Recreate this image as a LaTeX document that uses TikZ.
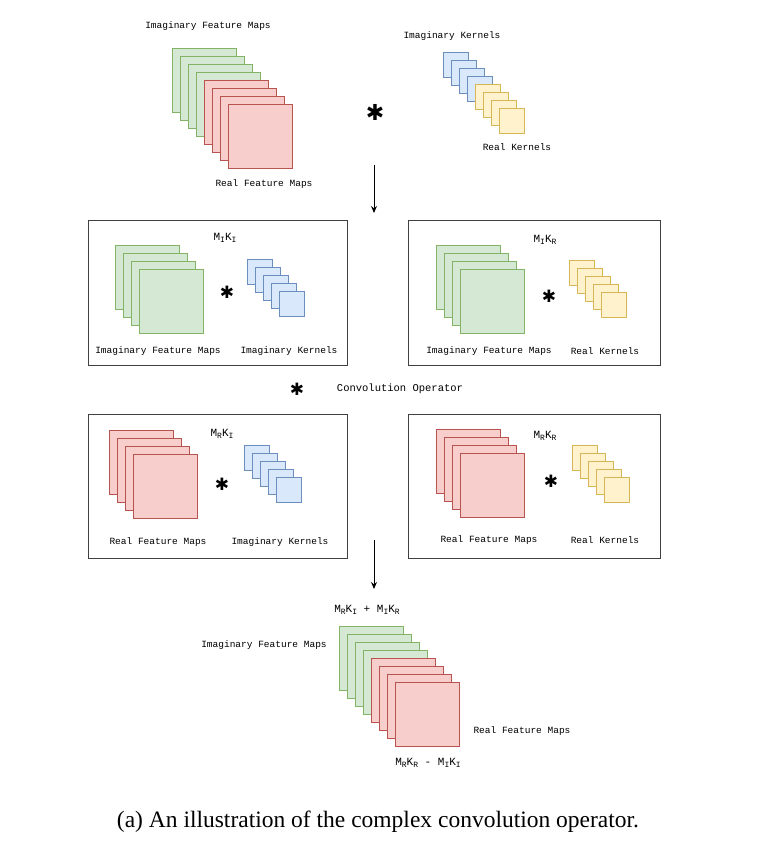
\documentclass[tikz,border=0pt]{standalone}
\usepackage{fontspec}
\setmainfont{Liberation Serif}
\setmonofont{Liberation Mono}
\newfontfamily\symfont{DejaVu Sans}
\usetikzlibrary{arrows.meta}
\begin{document}
\begin{tikzpicture}[x=1pt,y=-1pt,
  lbl/.style={font=\ttfamily\fontsize{9.5}{10}\selectfont, inner sep=0},
  mlbl/.style={font=\ttfamily\fontsize{11}{12}\selectfont, inner sep=0},
  star/.style={font=\symfont\fontsize{17}{17}\selectfont, inner sep=0},
  frame/.style={draw=black!75, line width=0.8pt},
  arr/.style={-{Stealth[length=7pt,width=6pt]}, line width=1pt}]
\definecolor{gf}{HTML}{D5E8D4}\definecolor{gd}{HTML}{82B366}
\definecolor{rf}{HTML}{F8CECC}\definecolor{rd}{HTML}{B85450}
\definecolor{bf}{HTML}{DAE8FC}\definecolor{bd}{HTML}{6C8EBF}
\definecolor{yf}{HTML}{FFF2CC}\definecolor{yd}{HTML}{D6B656}
\tikzset{
  sqg/.style={fill=gf, draw=gd, line width=0.8pt},
  sqr/.style={fill=rf, draw=rd, line width=0.8pt},
  sqb/.style={fill=bf, draw=bd, line width=0.8pt},
  sqy/.style={fill=yf, draw=yd, line width=0.8pt}}
\newcommand{\mysq}[4]{\draw[#1] (#2,#3) rectangle ++(#4,#4);}
\newcommand{\msub}[1]{\raisebox{-0.35ex}{\fontsize{8}{8}\selectfont #1}}
\path[use as bounding box] (0,0) rectangle (757,852);
% top
\foreach \i in {0,...,3} {\mysq{sqg}{172+8*\i}{48+8*\i}{64}}
\foreach \i in {4,...,7} {\mysq{sqr}{172+8*\i}{48+8*\i}{64}}
\foreach \i in {0,...,3} {\mysq{sqb}{443+8*\i}{52+8*\i}{25}}
\foreach \i in {4,...,7} {\mysq{sqy}{443+8*\i}{52+8*\i}{25}}
\node[lbl] (t1) at (208,26) {Imaginary Feature Maps};
\node[lbl] (t2) at (264,184) {Real Feature Maps};
\node[lbl] (t3) at (452,36) {Imaginary Kernels};
\node[lbl] (t4) at (517,147) {Real Kernels};
\node[star, font=\symfont\fontsize{22}{22}\selectfont] (s0) at (375,112) {✱};
\coordinate (a1s) at (374,165); \coordinate (a1e) at (374,213);
\draw[arr] (a1s) -- (a1e);
% box 1
\draw[frame] (88,220) rectangle (347,365);
\node[mlbl] (m1) at (225,238) {M\msub{I}K\msub{I}};
\foreach \i in {0,...,3} {\mysq{sqg}{115+8*\i}{245+8*\i}{64}}
\node[star] (s1) at (227,292) {✱};
\foreach \i in {0,...,4} {\mysq{sqb}{247+8*\i}{259+8*\i}{25}}
\node[lbl] (l11) at (158,351) {Imaginary Feature Maps};
\node[lbl] (l12) at (289,351) {Imaginary Kernels};
% box 2
\draw[frame] (408,220) rectangle (660,365);
\node[mlbl] (m2) at (545,240) {M\msub{I}K\msub{R}};
\foreach \i in {0,...,3} {\mysq{sqg}{436+8*\i}{245+8*\i}{64}}
\node[star] (s2) at (549,296) {✱};
\foreach \i in {0,...,4} {\mysq{sqy}{569+8*\i}{260+8*\i}{25}}
\node[lbl] (l21) at (489,351) {Imaginary Feature Maps};
\node[lbl] (l22) at (605,351) {Real Kernels};
% legend
\node[star] (s5) at (297,389) {✱};
\node[lbl, font=\ttfamily\fontsize{10.5}{11}\selectfont] (cv) at (400,389) {Convolution Operator};
% box 3
\draw[frame] (88,414) rectangle (347,558);
\node[mlbl] (m3) at (222,434) {M\msub{R}K\msub{I}};
\foreach \i in {0,...,3} {\mysq{sqr}{109+8*\i}{430+8*\i}{64}}
\node[star] (s3) at (222,484) {✱};
\foreach \i in {0,...,4} {\mysq{sqb}{244+8*\i}{445+8*\i}{25}}
\node[lbl] (l31) at (158,542) {Real Feature Maps};
\node[lbl] (l32) at (280,542) {Imaginary Kernels};
% box 4
\draw[frame] (408,414) rectangle (660,558);
\node[mlbl] (m4) at (545,436) {M\msub{R}K\msub{R}};
\foreach \i in {0,...,3} {\mysq{sqr}{436+8*\i}{429+8*\i}{64}}
\node[star] (s4) at (551,481) {✱};
\foreach \i in {0,...,4} {\mysq{sqy}{572+8*\i}{445+8*\i}{25}}
\node[lbl] (l41) at (489,540) {Real Feature Maps};
\node[lbl] (l42) at (605,540) {Real Kernels};
\coordinate (a2s) at (374,540); \coordinate (a2e) at (374,589);
\draw[arr] (a2s) -- (a2e);
% bottom
\node[mlbl] (m5) at (367,610) {M\msub{R}K\msub{I} + M\msub{I}K\msub{R}};
\foreach \i in {0,...,3} {\mysq{sqg}{339+8*\i}{626+8*\i}{64}}
\foreach \i in {4,...,7} {\mysq{sqr}{339+8*\i}{626+8*\i}{64}}
\node[lbl] (b1) at (264,645) {Imaginary Feature Maps};
\node[lbl] (b2) at (522,731) {Real Feature Maps};
\node[mlbl] (m6) at (428,763) {M\msub{R}K\msub{R} - M\msub{I}K\msub{I}};
\node[inner sep=0, font=\fontsize{23.5}{26}\selectfont] (cap) at (378,822) {(a) An illustration of the complex convolution operator.};
\end{tikzpicture}
\end{document}
